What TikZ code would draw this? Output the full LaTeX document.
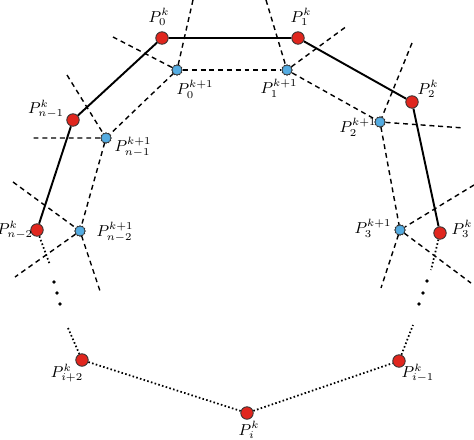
\documentclass[tikz,border=0pt]{standalone}
\usetikzlibrary{shapes.geometric,backgrounds}
\definecolor{ptrouge}{RGB}{224,38,30}
\definecolor{ptbleu}{RGB}{84,172,226}
\begin{document}
\begin{tikzpicture}[x=0.02cm,y=-0.02cm,
	ancien/.style={circle,draw=black!80,fill=ptrouge,inner sep=0pt,minimum size=0.25cm,line width=0.5pt},
	nouveau/.style={star,star points=12,star point ratio=1.25,draw=black!80,fill=ptbleu,inner sep=0pt,minimum size=0.22cm,line width=0.4pt},
	poly/.style={line width=1.1pt},
	trait/.style={line width=0.8pt,dash pattern=on 2.8pt off 2.2pt},
	pointille/.style={line width=1pt,dash pattern=on 0.9pt off 1.3pt},
	etiq/.style={inner sep=0pt,font=\small}]
	\useasboundingbox (0,0) rectangle (474,440);
%					Points P^k :
	\node[ancien] (p0) at (162,38) {};
	\node[ancien] (p1) at (298,38) {};
	\node[ancien] (p2) at (412,102) {};
	\node[ancien] (p3) at (440,233) {};
	\node[ancien] (pn1) at (73,120) {};
	\node[ancien] (pn2) at (37,230) {};
	\node[ancien] (pi2) at (82,360) {};
	\node[ancien] (pi) at (247,413) {};
	\node[ancien] (pi1) at (399,361) {};
%					Points P^{k+1} :
	\node[nouveau] (q0) at (177,70) {};
	\node[nouveau] (q1) at (287,70) {};
	\node[nouveau] (q2) at (380,122) {};
	\node[nouveau] (q3) at (400,230) {};
	\node[nouveau] (qn1) at (106,138) {};
	\node[nouveau] (qn2) at (80,231) {};
%					Extremites libres :
	\coordinate (a0) at (193,0);
	\coordinate (b0) at (113,37);
	\coordinate (a1) at (266,0);
	\coordinate (b1) at (347,26);
	\coordinate (a2) at (412,43);
	\coordinate (b2) at (464,128);
	\coordinate (a3) at (474,185);
	\coordinate (b3) at (471,283);
	\coordinate (c3) at (381,288);
	\coordinate (an1) at (67,75);
	\coordinate (bn1) at (32,138);
	\coordinate (an2) at (13,182);
	\coordinate (bn2) at (15,277);
	\coordinate (cn2) at (101,294);
	\coordinate (dg) at (50,265);
	\coordinate (dd) at (431,270);
	\coordinate (eg) at (68,328);
	\coordinate (ed) at (413,325);
	\begin{scope}[on background layer]
%					Trace du polygone :
		\draw[poly] (pn2) -- (pn1) -- (p0) -- (p1) -- (p2) -- (p3);
%					Trace des droites :
		\draw[trait] (a0) -- (q0) -- (b0);
		\draw[trait] (q0) -- (q1);
		\draw[trait] (a1) -- (q1) -- (b1);
		\draw[trait] (q1) -- (q2);
		\draw[trait] (a2) -- (q2) -- (b2);
		\draw[trait] (q2) -- (q3);
		\draw[trait] (a3) -- (q3) -- (b3);
		\draw[trait] (q3) -- (c3);
		\draw[trait] (q0) -- (qn1);
		\draw[trait] (an1) -- (qn1) -- (bn1);
		\draw[trait] (qn1) -- (qn2);
		\draw[trait] (an2) -- (qn2) -- (bn2);
		\draw[trait] (qn2) -- (cn2);
%					Partie en pointille :
		\draw[pointille] (pn2) -- (dg);
		\draw[pointille] (p3) -- (dd);
		\draw[pointille] (eg) -- (pi2) -- (pi) -- (pi1) -- (ed);
	\end{scope}
%					Points de suspension :
	\foreach \x/\y in {54/282,57/293,60/304,427/281,423/293,419/304}
		\fill (\x,\y) circle (1.9);
%					Etiquettes :
	\node[etiq] (l0) at (159,17) {$P_0^k$};
	\node[etiq] (l1) at (301,17) {$P_1^k$};
	\node[etiq] (l2) at (428,89) {$P_2^k$};
	\node[etiq] (l3) at (462,229) {$P_3^k$};
	\node[etiq] (ln1) at (46,109) {$P_{n-1}^k$};
	\node[etiq] (ln2) at (15,230) {$P_{n-2}^k$};
	\node[etiq] (li2) at (67,373) {$P_{i+2}^k$};
	\node[etiq] (li) at (249,430) {$P_i^k$};
	\node[etiq] (li1) at (418,373) {$P_{i-1}^k$};
	\node[etiq] (m0) at (195,89) {$P_0^{k+1}$};
	\node[etiq] (m1) at (279,88) {$P_1^{k+1}$};
	\node[etiq] (m2) at (358,127) {$P_2^{k+1}$};
	\node[etiq] (m3) at (373,228) {$P_3^{k+1}$};
	\node[etiq] (mn1) at (133,147) {$P_{n-1}^{k+1}$};
	\node[etiq] (mn2) at (115,232) {$P_{n-2}^{k+1}$};
\end{tikzpicture}
\end{document}
